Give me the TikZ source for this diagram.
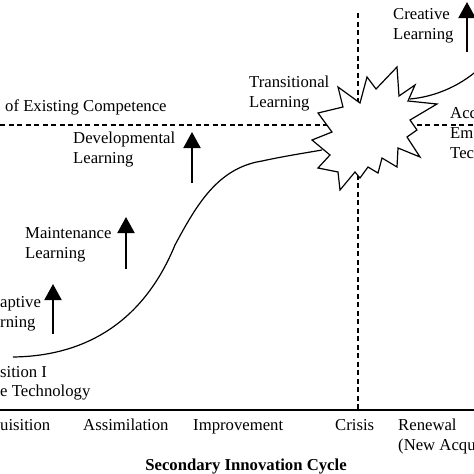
\documentclass[tikz,border=0pt]{standalone}
\usepackage{fontspec}
\setmainfont{Liberation Serif}
\usetikzlibrary{arrows.meta}
\begin{document}
\begin{tikzpicture}[x=1pt,y=-1pt,
  lbl/.style={anchor=base west,inner sep=0pt,font=\fontsize{16.7}{20}\selectfont},
  ttl/.style={anchor=base,inner sep=0pt,font=\fontsize{16.7}{20}\selectfont\bfseries},
  dsh/.style={dash pattern=on 5pt off 3.5pt,line width=1.1pt},
  uparrow/.style={line width=2pt,-{Triangle[width=17pt,length=16pt]}},
  crv/.style={line width=1.2pt},
  burst/.style={line width=1.2pt,fill=white,line join=miter}]
\useasboundingbox (0,0) rectangle (474,474);
\clip (0,0) rectangle (474,474);
% guide lines
\coordinate (hl) at (0,125);
\coordinate (hr) at (480,125);
\coordinate (vt) at (358,13);
\coordinate (vb) at (358,410);
\coordinate (al) at (-5,410);
\coordinate (ar) at (480,410);
\draw[dsh] (hl) -- (hr);
\draw[dsh] (vt) -- (vb);
\draw[line width=1.2pt] (al) -- (ar);
% growth curve
\coordinate (c0) at (13,357);
\coordinate (c1) at (175,245);
\coordinate (c2) at (262,161);
\coordinate (c3) at (322,150);
\draw[crv] (c0) .. controls (90,356) and (145,318) .. (c1)
  .. controls (197,204) and (218,168) .. (c2)
  .. controls (285,156) and (305,153) .. (c3);
\coordinate (d0) at (410,99);
\coordinate (d1) at (480,68);
\draw[crv] (d0) .. controls (432,97) and (458,88) .. (d1);
% crisis burst
\draw[burst] (367,77) -- (376,89) -- (397,67) -- (399,96) -- (415,85) -- (408,101) -- (437,104) -- (410,120) -- (417,130) -- (407,137) -- (420,157) -- (398,148) -- (397,167) -- (382,158) -- (378,173) -- (368,167) -- (360,178) -- (355,172) -- (340,190) -- (338,172) -- (318,168) -- (330,155) -- (312,140) -- (332,132) -- (318,113) -- (343,107) -- (338,87) -- (360,103) -- cycle;
% arrows
\coordinate (a1s) at (53,334); \coordinate (a1e) at (53,284);
\coordinate (a2s) at (126,269); \coordinate (a2e) at (126,217);
\coordinate (a3s) at (192,183); \coordinate (a3e) at (192,132);
\coordinate (a4s) at (467,52); \coordinate (a4e) at (467,2);
\draw[uparrow] (a1s) -- (a1e);
\draw[uparrow] (a2s) -- (a2e);
\draw[uparrow] (a3s) -- (a3e);
\draw[uparrow] (a4s) -- (a4e);
% labels
\node[lbl] (comp) at (5,111) {of Existing Competence};
\node[lbl] (dev1) at (73,143) {Developmental};
\node[lbl] (dev2) at (73,163) {Learning};
\node[lbl] (mai1) at (25,238) {Maintenance};
\node[lbl] (mai2) at (25,258) {Learning};
\node[lbl] (ada1) at (0,307) {aptive};
\node[lbl] (ada2) at (0,327) {rning};
\node[lbl] (acq1) at (0,377) {sition I};
\node[lbl] (acq2) at (0,396) {e Technology};
\node[lbl] (tra1) at (249,87) {Transitional};
\node[lbl] (tra2) at (249,107) {Learning};
\node[lbl] (cre1) at (393,19) {Creative};
\node[lbl] (cre2) at (393,39) {Learning};
\node[lbl] (emb1) at (450,118) {Acc};
\node[lbl] (emb2) at (450,138) {Em};
\node[lbl] (emb3) at (450,158) {Tec};
% axis labels
\node[lbl] (x1) at (0,430) {uisition};
\node[lbl] (x2) at (83,430) {Assimilation};
\node[lbl] (x3) at (193,430) {Improvement};
\node[lbl] (x4) at (335,430) {Crisis};
\node[lbl] (x5) at (398,430) {Renewal};
\node[lbl] (x6) at (398,450) {(New Acqu};
\node[ttl] (title) at (246,470) {Secondary Innovation Cycle};
\end{tikzpicture}
\end{document}
